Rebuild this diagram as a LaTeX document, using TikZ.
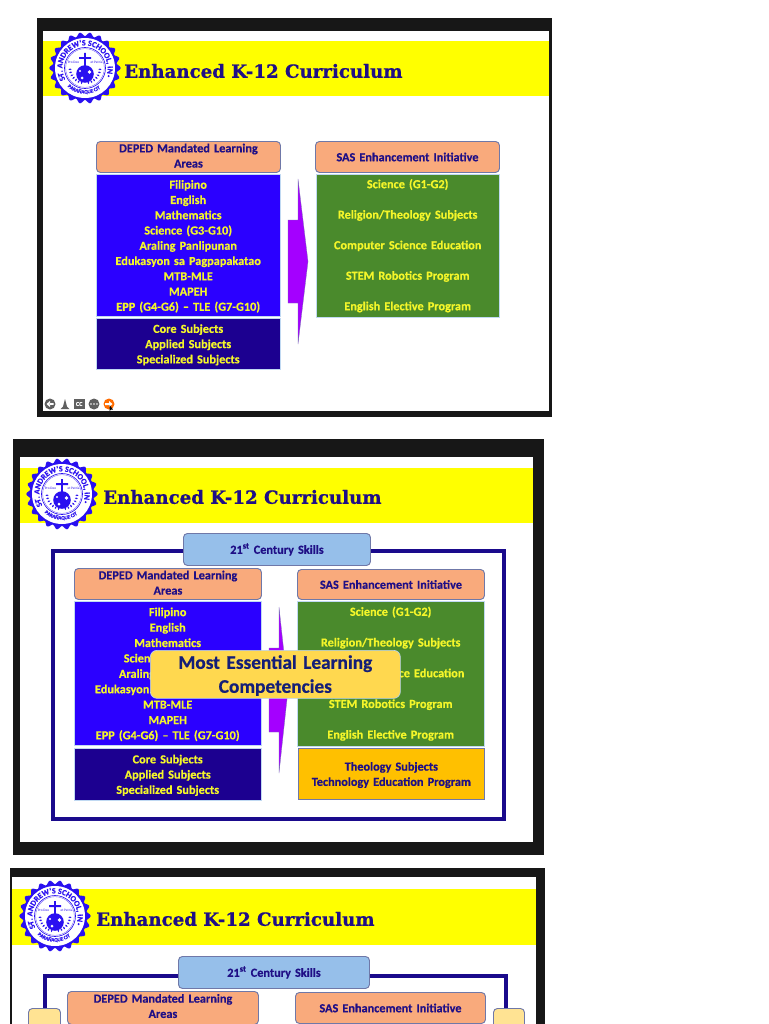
\documentclass[tikz,border=0pt]{standalone}
\usepackage{fontspec}
\setmainfont[BoldFeatures={FakeBold=0.5}]{Carlito}
\newfontfamily\titlefont[BoldFeatures={FakeBold=0.8}]{DejaVu Serif}
\usetikzlibrary{decorations.text}
\definecolor{sblack}{HTML}{171717}
\definecolor{syellow}{HTML}{FFFF00}
\definecolor{tnavy}{HTML}{1F0F86}
\definecolor{tmelc}{HTML}{141E78}
\definecolor{tyellow}{HTML}{F4F62A}
\definecolor{cblue}{HTML}{2B00FF}
\definecolor{cdark}{HTML}{1C0090}
\definecolor{cgreen}{HTML}{4A8A2C}
\definecolor{corange}{HTML}{F9AA7C}
\definecolor{cborder}{HTML}{6F78A8}
\definecolor{csky}{HTML}{96BFEA}
\definecolor{camber}{HTML}{FFC000}
\definecolor{cmelc}{HTML}{FFD84F}
\definecolor{cpale}{HTML}{FFE393}
\definecolor{cpurple}{HTML}{A400FF}
\definecolor{cframe}{HTML}{1A0A8C}
\definecolor{clogo}{HTML}{2A10F0}
\newcommand{\lead}{\rule{0pt}{8.2pt}}
\newcommand{\tail}{\rule[-2pt]{0pt}{0pt}}
\tikzset{
  x=0.75pt,y=-0.75pt,
  boxbase/.style={anchor=north west,inner sep=0pt,align=center,font=\bfseries\fontsize{9.2}{11.44}\selectfont},
  headbox/.style={boxbase,fill=corange,draw=cborder,line width=0.7pt,rounded corners=3pt,text=tnavy},
  skybox/.style={boxbase,fill=csky,draw=cborder,line width=0.7pt,rounded corners=3pt,text=tnavy},
  bluebox/.style={boxbase,fill=cblue,draw=csky!60,line width=0.3pt,text=tyellow},
  darkbox/.style={boxbase,fill=cdark,draw=csky!60,line width=0.3pt,text=tyellow},
  greenbox/.style={boxbase,fill=cgreen,draw=csky!60,line width=0.3pt,text=tyellow},
  amberbox/.style={boxbase,fill=camber,draw=cborder,line width=0.5pt,text=tnavy},
  melcbox/.style={boxbase,fill=cmelc,draw=csky!70,line width=0.5pt,rounded corners=5pt,text=tmelc,font=\bfseries\fontsize{14.5}{18}\selectfont},
  palebox/.style={boxbase,fill=cpale,draw=cborder,line width=0.7pt,rounded corners=3pt},
  titletext/.style={anchor=west,inner sep=0pt,text=tnavy,font=\titlefont\bfseries\fontsize{13.65}{16}\selectfont},
  arrowshape/.style={fill=cpurple,draw=cborder,line width=0.2pt},
}
\newcommand{\bx}[7]{\node[#6,minimum width={(#4-#2)*0.75pt},minimum height={(#5-#3)*0.75pt},text width={(#4-#2)*0.75pt}] (#1) at (#2,#3) {#7};}
\newcommand{\slogo}[2]{%
\begin{scope}[shift={(#1,#2)},x=0.75pt,y=0.75pt]
  \fill[clogo] plot[domain=0:360,samples=177,smooth] ({(33.8+1.9*cos(22*\x))*cos(\x)},{(33.8+1.9*cos(22*\x))*sin(\x)}) -- cycle;
  \fill[white] (0,0) circle (30);
  \draw[clogo,line width=0.5pt] (0,0) circle (20.5);
  \draw[clogo!70,line width=0.25pt] (0,0) circle (19.3);
  \path[decorate,decoration={text along path,text color=clogo,text align=center,text={|\bfseries\fontsize{6}{7}\selectfont|ST. ANDREW'S SCHOOL, INC.}}] (190:22.6) arc (190:-10:22.6);
  \path[decorate,decoration={text along path,text color=clogo,text align=center,text={|\bfseries\fontsize{3.9}{4}\selectfont|PARAÑAQUE CITY}}] (232:25.6) arc (232:308:25.6);
  \fill[clogo] (199:25) circle (1.1) (-19:25) circle (1.1);
  \fill[clogo] (0,-6) circle (8.8);
  \fill[white] (-3,-10) circle (1.5) (4.5,-4) circle (1.8) (-5,-3) circle (1.1);
  \fill[clogo] (-0.9,0) rectangle (0.9,15) (-6,9) rectangle (6,10.8);
  \node[text=clogo,inner sep=0pt,font=\fontsize{2.6}{3}\selectfont] at (-11.5,6) {Pro Deo};
  \node[text=clogo,inner sep=0pt,font=\fontsize{2.6}{3}\selectfont] at (11.5,6) {et Patria};
  \foreach \a in {185,197,...,265}{\fill[clogo,rotate=\a] (15,0) ellipse (1.6 and 0.8);}
  \foreach \a in {-5,-17,...,-85}{\fill[clogo,rotate=\a] (15,0) ellipse (1.6 and 0.8);}
\end{scope}}
\newcommand{\sarrow}[6]{% x-shaft, x-head, x-tip, y-top, y-shaft-top, y-mid
  \fill[arrowshape] (#1,#5) -- (#2,#5) -- (#2,#4) -- (#3,#6) -- (#2,{2*#6-#4}) -- (#2,{2*#6-#5}) -- (#1,{2*#6-#5}) -- cycle;}
\begin{document}
\begin{tikzpicture}
\clip (0,0) rectangle (768,1024);
\fill[white] (0,0) rectangle (768,1024);
% ===== slide 1
\fill[sblack] (37,18) rectangle (552,417);
\fill[white] (43,31) rectangle (549,411);
\fill[syellow] (43,41) rectangle (549,96);
\slogo{85}{68}
\node[titletext] (t1) at (124,71) {Enhanced K-12 Curriculum};
\bx{a1}{96}{141}{280}{172}{headbox}{\fontsize{9.2}{12}\selectfont DEPED Mandated Learning\\Areas\tail}
\bx{b1}{315}{141}{499}{172}{headbox}{SAS Enhancement Initiative}
\bx{c1}{96}{174}{280}{316}{bluebox}{\lead Filipino\\English\\Mathematics\\Science (G3-G10)\\Araling Panlipunan\\Edukasyon sa Pagpapakatao\\MTB-MLE\\MAPEH\\EPP (G4-G6) – TLE (G7-G10)}
\bx{d1}{96}{318}{280}{369}{darkbox}{\lead Core Subjects\\Applied Subjects\\Specialized Subjects}
\bx{e1}{316}{174}{499}{317}{greenbox}{Science (G1-G2)\\[11.44pt]Religion/Theology Subjects\\[11.44pt]Computer Science Education\\[11.44pt]STEM Robotics Program\\[11.44pt]English Elective Program}
\sarrow{288}{298}{308}{179}{220}{261.5}
% footer icons
\fill[gray!75!black] (50,404) circle (5.5);
\fill[white] (46.5,404) -- (50,401) -- (50,407) -- cycle (49.5,403.2) rectangle (53.5,404.8);
\fill[gray!75!black] (60.5,409) -- (69.5,409) -- (67,406.5) -- (65,399) -- (63,406.5) -- cycle;
\fill[gray!75!black] (74,399) rectangle (84.5,409);
\node[inner sep=0pt,text=white,font=\bfseries\fontsize{4.5}{5}\selectfont] (cc) at (79.2,404) {CC};
\fill[gray!75!black] (94,404) circle (5.5);
\fill[white] (91,404) circle (0.8) (94,404) circle (0.8) (97,404) circle (0.8);
\fill[orange!85!red] (109,404) circle (5.5);
\fill[white] (112.5,404) -- (109,401) -- (109,407) -- cycle (105,403) rectangle (109.5,405);
\fill[black] (109.5,405) -- (109.5,411) -- (111,409.5) -- (113,409.5) -- cycle;
% ===== slide 2
\fill[sblack] (13,439) rectangle (544,855);
\fill[white] (20,457) rectangle (533,842);
\fill[syellow] (20,468) rectangle (533,523);
\slogo{62}{494}
\node[titletext] (t2) at (103,497) {Enhanced K-12 Curriculum};
\draw[cframe,line width=3pt] (53,551) rectangle (504,819);
\bx{s2}{183}{533}{370}{565}{skybox}{21\textsuperscript{st} Century Skills}
\bx{a2}{74}{568}{261}{599}{headbox}{\fontsize{9.2}{12.4}\selectfont DEPED Mandated Learning\\Areas\tail}
\bx{b2}{297}{569}{484}{599}{headbox}{SAS Enhancement Initiative}
\bx{c2}{74}{601}{261}{745}{bluebox}{\fontsize{9.2}{11.56}\selectfont\lead Filipino\\English\\Mathematics\\Science (G3-G10)\\Araling Panlipunan\\Edukasyon sa Pagpapakatao\\MTB-MLE\\MAPEH\\EPP (G4-G6) – TLE (G7-G10)}
\bx{d2}{74}{748}{261}{800}{darkbox}{\lead Core Subjects\\Applied Subjects\\Specialized Subjects}
\bx{e2}{297}{601}{484}{746}{greenbox}{Science (G1-G2)\\[11.6pt]Religion/Theology Subjects\\[11.6pt]Computer Science Education\\[11.6pt]STEM Robotics Program\\[11.6pt]English Elective Program}
\bx{f2}{298}{748}{484}{799}{amberbox}{\lead Theology Subjects\\Technology Education Program}
\sarrow{269}{279}{288}{607}{648}{690}
\bx{m2}{150}{650}{400}{698}{melcbox}{\rule{0pt}{12pt}Most Essential Learning\\Competencies}
% ===== slide 3
\fill[sblack] (10,868) rectangle (545,1024);
\fill[white] (12,877) rectangle (536,1024);
\fill[syellow] (12,889) rectangle (536,945);
\slogo{55}{916}
\node[titletext] (t3) at (96,919) {Enhanced K-12 Curriculum};
\draw[cframe,line width=3pt] (45,1030) -- (45,976) -- (506,976) -- (506,1030);
\bx{s3}{178}{956}{369}{988}{skybox}{21\textsuperscript{st} Century Skills}
\bx{p3}{28}{1008}{60}{1050}{palebox}{}
\bx{q3}{493}{1008}{524}{1050}{palebox}{}
\bx{a3}{67}{991}{258}{1024}{headbox}{\fontsize{9.2}{12.6}\selectfont DEPED Mandated Learning\\Areas\rule[-3pt]{0pt}{0pt}}
\bx{b3}{295}{992}{485}{1023}{headbox}{SAS Enhancement Initiative}
\end{tikzpicture}
\end{document}
